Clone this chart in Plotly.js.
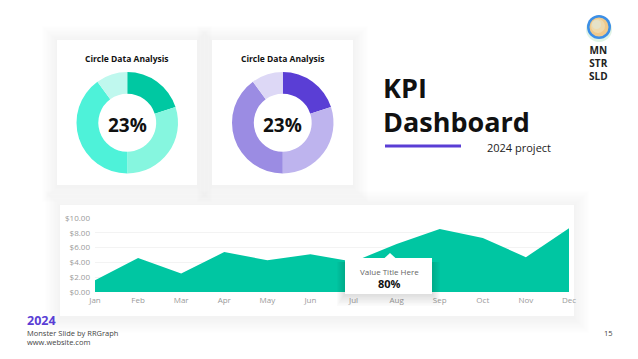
<!DOCTYPE html>
<html>
<head>
<meta charset="utf-8">
<script src="https://cdn.plot.ly/plotly-3.0.1.min.js"></script>
<style>
html,body{margin:0;padding:0;background:#ffffff;}
#chart{width:638px;height:359px;}
</style>
</head>
<body>
<div id="chart"></div>
<script>
// ---- data ----
const months = ["Jan","Feb","Mar","Apr","May","Jun","Jul","Aug","Sep","Oct","Nov","Dec"];
const revenue = [1.6, 4.6, 2.5, 5.4, 4.3, 5.1, 4.1, 6.5, 8.5, 7.3, 4.7, 8.6];
const yTickVals = [0, 2, 4, 6, 8, 10];
const yTickText = ["$0.00","$2.00","$4.00","$6.00","$8.00","$10.00"];
const donutLabels = ["A","B","C","D"];
const donut1Values = [20, 30, 40, 10];
const donut2Values = [20, 30, 40, 10];
const donutTitle = "Circle Data Analysis";
const donutCenter = "23%";
const tooltipTitle = "Value Title Here";
const tooltipValue = "80%";

// ---- helpers (pixel -> paper) ----
const W = 638, H = 359;
const X = p => p / W;
const Y = p => 1 - p / H;

const teal = ["#00C8A2", "#86F6DF", "#4EF2D9", "#BFF8EE"];
const purple = ["#5A3ED5", "#BEB4EE", "#9B8CE3", "#DDD8F6"];

const traces = [
  {
    type: "scatter", mode: "lines", x: months.map((m, i) => i), y: revenue,
    fill: "tozeroy", fillcolor: "#00C6A2",
    line: {width: 0, color: "#00C6A2", shape: "linear"},
    xaxis: "x", yaxis: "y", hoverinfo: "skip", showlegend: false
  },
  {
    type: "pie", labels: donutLabels, values: donut1Values, hole: 0.57,
    sort: false, direction: "clockwise", rotation: 0,
    marker: {colors: teal, line: {width: 0}},
    textinfo: "none", hoverinfo: "skip", showlegend: false,
    domain: {x: [X(76.5), X(178)], y: [Y(173.5), Y(72)]}
  },
  {
    type: "pie", labels: donutLabels, values: donut2Values, hole: 0.57,
    sort: false, direction: "clockwise", rotation: 0,
    marker: {colors: purple, line: {width: 0}},
    textinfo: "none", hoverinfo: "skip", showlegend: false,
    domain: {x: [X(232), X(333.5)], y: [Y(173.5), Y(72)]}
  }
];

function card(x0, y0, x1, y1) {
  const s = [];
  for (let i = 12; i >= 1; i--) {
    const d = i * 1.3;
    s.push({type: "rect", xref: "paper", yref: "paper",
      x0: X(x0 - d), x1: X(x1 + d), y0: Y(y1 + d + 2), y1: Y(y0 - d + 1),
      fillcolor: "rgba(0,0,0,0.0045)", line: {width: 0}, layer: "below"});
  }
  s.push({type: "rect", xref: "paper", yref: "paper",
    x0: X(x0), x1: X(x1), y0: Y(y1), y1: Y(y0),
    fillcolor: "#ffffff", line: {width: 0}, layer: "below"});
  return s;
}

let shapes = [];
shapes = shapes.concat(card(57, 40, 197, 185));
shapes = shapes.concat(card(212, 40, 353, 185));
shapes = shapes.concat(card(60, 205, 574, 316));

// title underline
shapes.push({type: "line", xref: "paper", yref: "paper",
  x0: X(385), x1: X(461), y0: Y(146), y1: Y(146),
  line: {color: "#5A3ED5", width: 3}});

// logo
shapes.push({type: "circle", xref: "paper", yref: "paper",
  x0: X(586), x1: X(612), y0: Y(42), y1: Y(17),
  fillcolor: "rgba(110,200,140,0.22)", line: {width: 0}});
shapes.push({type: "circle", xref: "paper", yref: "paper",
  x0: X(587), x1: X(611), y0: Y(39), y1: Y(15),
  fillcolor: "#3C8FE6", line: {width: 0}});
shapes.push({type: "circle", xref: "paper", yref: "paper",
  x0: X(589.5), x1: X(608.5), y0: Y(36.5), y1: Y(17.5),
  fillcolor: "#F0C98A", line: {width: 0}});
shapes.push({type: "circle", xref: "paper", yref: "paper",
  x0: X(591), x1: X(605), y0: Y(33), y1: Y(19),
  fillcolor: "#EED9AC", line: {width: 0}});
shapes.push({type: "circle", xref: "paper", yref: "paper",
  x0: X(592), x1: X(601), y0: Y(29), y1: Y(20),
  fillcolor: "#E6E2C8", line: {width: 0}});

// tooltip shadow + box + pointer
for (let i = 8; i >= 1; i--) {
  shapes.push({type: "rect", xref: "paper", yref: "paper",
    x0: X(345 - i), x1: X(432 + i), y0: Y(294 + i * 1.5), y1: Y(262),
    fillcolor: "rgba(0,0,0,0.015)", line: {width: 0}});
}
shapes.push({type: "rect", xref: "paper", yref: "paper",
  x0: X(345), x1: X(432), y0: Y(294), y1: Y(258),
  fillcolor: "#ffffff", line: {width: 0}});
shapes.push({type: "path", xref: "paper", yref: "paper",
  path: `M ${X(384)} ${Y(258.5)} L ${X(390)} ${Y(253)} L ${X(396)} ${Y(258.5)} Z`,
  fillcolor: "#ffffff", line: {width: 0}});

const F = "Open Sans, Noto Sans, sans-serif";
function txt(text, x, y, size, color, bold, xanchor) {
  return {text: bold ? "<b>" + text + "</b>" : text, xref: "paper", yref: "paper",
    x: X(x), y: Y(y), xanchor: xanchor || "left", yanchor: "middle",
    showarrow: false, font: {family: F, size: size, color: color}, borderpad: 0};
}

const annotations = [
  txt(donutTitle, 127, 59, 8.5, "#111", true, "center"),
  txt(donutTitle, 282.5, 59, 8.5, "#111", true, "center"),
  txt(donutCenter, 127.3, 124.5, 19, "#111", true, "center"),
  txt(donutCenter, 282.7, 124.5, 19, "#111", true, "center"),
  txt("KPI", 382, 87, 27, "#111", true),
  txt("Dashboard", 382, 122, 27, "#111", true),
  txt("2024 project", 486, 147, 11, "#222", false),
  txt("MN<br>STR<br>SLD", 598.5, 62.5, 10, "#222", true, "center"),
  txt(tooltipTitle, 389, 271, 8, "#666", false, "center"),
  txt(tooltipValue, 389, 283.5, 11, "#111", true, "center"),
  txt("2024", 26, 320, 12.5, "#5A3ED5", true),
  txt("Monster Slide by RRGraph", 26, 332.5, 7.5, "#444", false),
  txt("www.website.com", 26, 341.5, 7.5, "#444", false),
  txt("15", 603, 333, 7.5, "#444", false)
];

const layout = {
  width: W, height: H,
  margin: {l: 0, r: 0, t: 0, b: 0},
  paper_bgcolor: "#ffffff", plot_bgcolor: "rgba(0,0,0,0)",
  showlegend: false,
  xaxis: {
    domain: [X(95), X(569)], range: [0, 11], type: "linear",
    tickmode: "array", tickvals: months.map((m, i) => i), ticktext: months,
    showgrid: false, zeroline: false, showline: false, ticks: "",
    tickfont: {family: F, size: 8, color: "#9a9a9a"}, ticklabelstandoff: 2
  },
  yaxis: {
    domain: [Y(292), Y(218)], range: [0, 10],
    tickmode: "array", tickvals: yTickVals, ticktext: yTickText,
    showgrid: true, gridcolor: "#f3f3f3", gridwidth: 1,
    zeroline: false, showline: false, ticks: "",
    tickfont: {family: F, size: 8, color: "#9a9a9a"}, ticklabelstandoff: 4
  },
  shapes: shapes,
  annotations: annotations
};

Plotly.newPlot("chart", traces, layout, {staticPlot: true, displayModeBar: false});
</script>
</body>
</html>
